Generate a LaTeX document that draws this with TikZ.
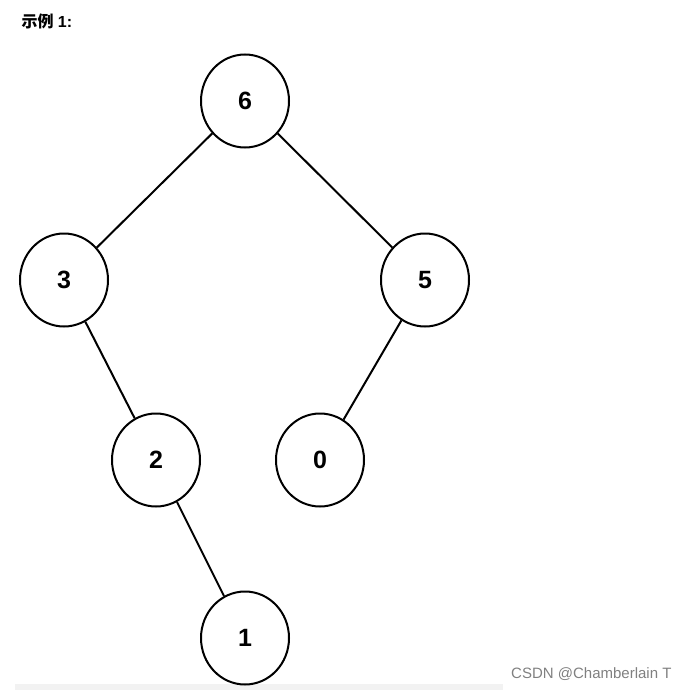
\documentclass[tikz,border=0pt]{standalone}
\usepackage{fontspec}
\setmainfont{Liberation Sans}
\newfontfamily\cjk{Noto Sans CJK SC}
\usetikzlibrary{shapes.geometric}
\begin{document}
\begin{tikzpicture}[x=1pt,y=-1pt,
  tn/.style={draw,line width=2pt,ellipse,minimum width=88pt,minimum height=93pt,inner sep=0pt,font=\fontsize{25}{25}\selectfont\bfseries},
  edge/.style={line width=2pt}]
\useasboundingbox (0,0) rectangle (689,690);
\fill[gray!10] (15,684) rectangle (503,690);
\node[anchor=west,font=\fontsize{16}{16}\selectfont\bfseries] (t) at (18,21) {{\cjk 示例} 1:};
\node[tn] (n6) at (245,101) {6};
\node[tn] (n3) at (64,280) {3};
\node[tn] (n5) at (425,280) {5};
\node[tn] (n2) at (156,460) {2};
\node[tn] (n0) at (320,460) {0};
\node[tn] (n1) at (245,638) {1};
\draw[edge] (n6) -- (n3);
\draw[edge] (n6) -- (n5);
\draw[edge] (n3) -- (n2);
\draw[edge] (n5) -- (n0);
\draw[edge] (n2) -- (n1);
\node[anchor=east,text=gray,font=\fontsize{15}{15}\selectfont] (w) at (675,674) {CSDN @Chamberlain T};
\end{tikzpicture}
\end{document}
